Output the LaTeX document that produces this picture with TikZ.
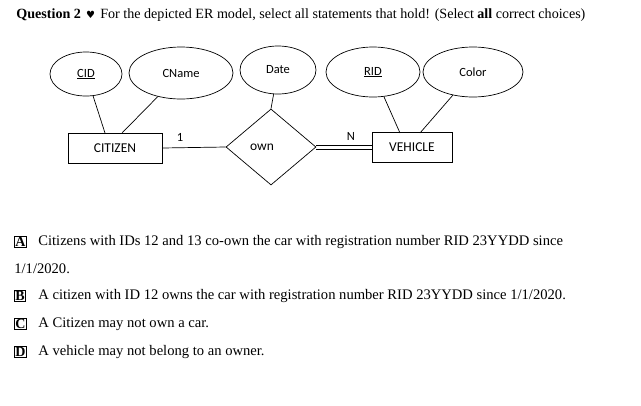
\documentclass[tikz,border=0pt]{standalone}
\usepackage{fontspec}
\setmainfont{Liberation Serif}
\newfontfamily\carl{Carlito}
\newfontfamily\djv{DejaVu Sans}
\usetikzlibrary{shapes.geometric}
\begin{document}
\begin{tikzpicture}[x=1pt,y=-1pt,line width=0.7pt,
  attr/.style={draw,ellipse,minimum width=#1,minimum height=48,inner sep=0,font=\carl\fontsize{12.5}{14}\selectfont},
  ent/.style={draw,rectangle,minimum height=30,inner sep=0,font=\carl\fontsize{13.5}{15}\selectfont},
  txt/.style={anchor=west,inner sep=0,font=\fontsize{14.6}{16}\selectfont},
  lbox/.style={draw,line width=0.6pt,inner sep=1pt,font=\bfseries\fontsize{14}{15}\selectfont,anchor=west}]
\useasboundingbox (0,0) rectangle (641,405);
\node[anchor=west,inner sep=0,font=\fontsize{14.1}{16}\selectfont] (title) at (16,15) {\textbf{Question 2} {\djv\fontsize{10}{10}\selectfont\,♥\,} For the depicted ER model, select all statements that hold! (Select \textbf{all} correct choices)};
\node[attr=72,minimum height=44] (cid) at (86,74) {\underline{CID}};
\node[attr=104,minimum height=52] (cname) at (181,73) {CName};
\node[attr=76,minimum height=48] (date) at (278,70) {Date};
\node[attr=94,minimum height=50] (rid) at (373,72) {\underline{RID}};
\node[attr=100,minimum height=50] (color) at (473,72) {Color};
\node[ent,minimum width=94] (cit) at (115,148) {CITIZEN};
\node[ent,minimum width=80] (veh) at (412,147) {VEHICLE};
\node[draw,diamond,minimum width=90,minimum height=76,inner sep=0] (own) at (271,147) {};
\node[font=\carl\fontsize{13.5}{15}\selectfont] (ownl) at (262,147) {own};
\coordinate (c1) at (105,133);
\coordinate (c2) at (122,133);
\coordinate (v1) at (400,133);
\coordinate (v2) at (420,133);
\draw (cid) -- (c1);
\draw (cname) -- (c2);
\draw (date) -- (own.north);
\draw (rid) -- (v1);
\draw (color) -- (v2);
\draw (cit.east) -- (own.west);
\draw ([yshift=-2pt]own.east) -- ([yshift=-2pt]veh.west);
\draw ([yshift=2pt]own.east) -- ([yshift=2pt]veh.west);
\node[font=\carl\fontsize{12.5}{14}\selectfont] (one) at (180,137) {1};
\node[font=\carl\fontsize{12.5}{14}\selectfont] (n) at (351,136) {N};
\node[lbox] (a) at (14,242) {A};
\node[txt] (at) at (38,242) {Citizens with IDs 12 and 13 co-own the car with registration number RID 23YYDD since};
\node[txt] (at2) at (14,269) {1/1/2020.};
\node[lbox] (b) at (14,296) {B};
\node[txt] (bt) at (38,296) {A citizen with ID 12 owns the car with registration number RID 23YYDD since 1/1/2020.};
\node[lbox] (c) at (14,324) {C};
\node[txt] (ct) at (38,324) {A Citizen may not own a car.};
\node[lbox] (d) at (14,352) {D};
\node[txt] (dt) at (38,352) {A vehicle may not belong to an owner.};
\end{tikzpicture}
\end{document}
